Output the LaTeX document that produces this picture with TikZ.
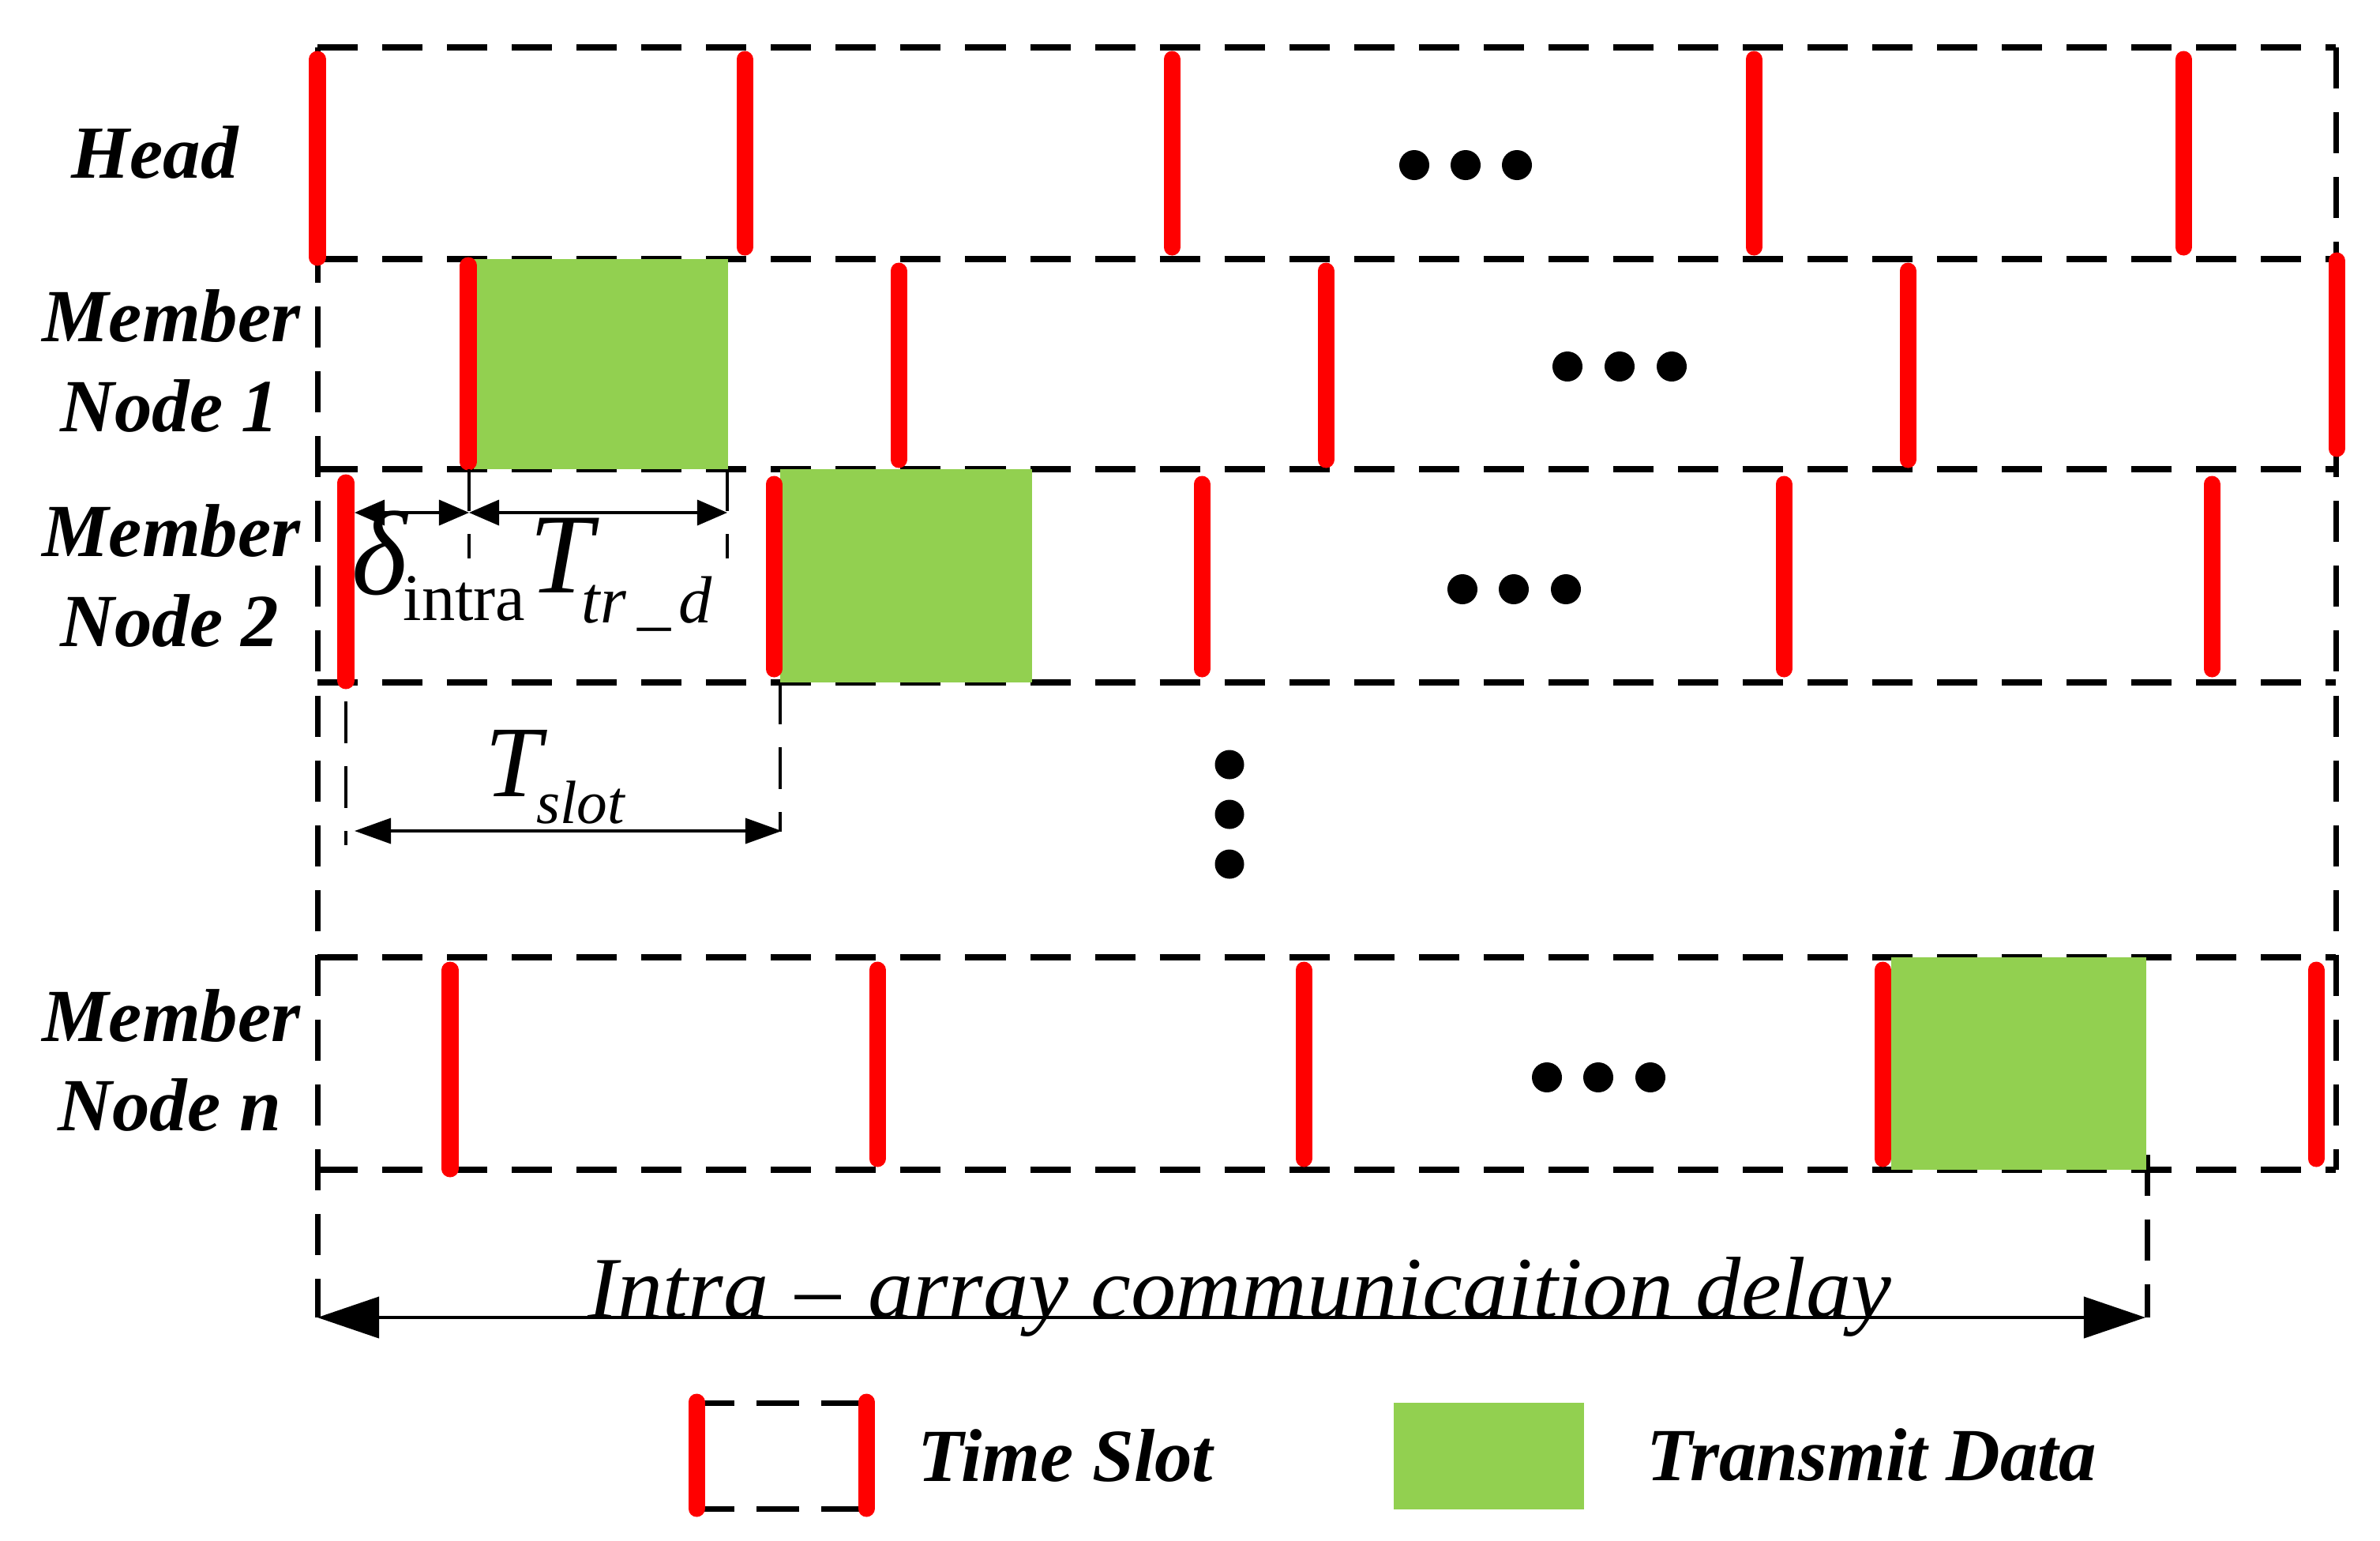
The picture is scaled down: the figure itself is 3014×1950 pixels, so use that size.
\documentclass[tikz,border=0pt]{standalone}
\usepackage{fontspec}
\usepackage{graphicx}
\setmainfont{Liberation Serif}
\usetikzlibrary{arrows.meta}
\definecolor{slotred}{RGB}{255,0,0}
\definecolor{datagreen}{RGB}{146,208,80}
\tikzset{
  hdash/.style={line width=0.08cm, dash pattern=on 0.51cm off 0.31cm},
  legdash/.style={line width=0.07cm, dash pattern=on 0.54cm off 0.28cm},
  vdash/.style={line width=0.07cm, dash pattern=on 0.52cm off 0.30cm},
  thindash/.style={line width=0.045cm, dash pattern=on 0.53cm off 0.29cm},
  slotline/.style={draw=slotred, line width=0.21cm, line cap=round},
  databox/.style={fill=datagreen, draw=none},
  dotmark/.style={fill=black, draw=none},
  lbl/.style={font=\fontsize{27}{27}\selectfont\bfseries\itshape, inner sep=0pt, anchor=base},
  leglbl/.style={font=\fontsize{27}{27}\selectfont\bfseries\itshape, inner sep=0pt, anchor=base west},
  mathlbl/.style={inner sep=0pt, anchor=base west},
  dimarrow/.style={line width=0.035cm, {Triangle[length=0.38cm,width=0.32cm]}-{Triangle[length=0.38cm,width=0.32cm]}},
  slotarrow/.style={line width=0.035cm, {Triangle[length=0.46cm,width=0.32cm]}-{Triangle[length=0.46cm,width=0.32cm]}},
  bigarrow/.style={line width=0.04cm, {Triangle[length=0.78cm,width=0.52cm]}-{Triangle[length=0.78cm,width=0.52cm]}},
}
\begin{document}
\begin{tikzpicture}[x=0.01cm,y=-0.01cm]
\useasboundingbox (0,0) rectangle (3014,1950);

% ---- grid of dashed lines ----
\foreach \yy in {60,328,594,864,1212,1481}
  \draw[hdash] (402,\yy) -- (2958,\yy);
\draw[vdash] (402,60) -- (402,1668);
\draw[vdash] (2958,60) -- (2958,1481);
\draw[vdash] (2719,1462) -- (2719,1668);

% ---- transmit data boxes ----
\fill[databox] (600,328) rectangle (922,594);
\fill[databox] (988,594) rectangle (1307,864);
\fill[databox] (2395,1212) rectangle (2718,1481);

% ---- time slot red lines ----
% Head
\draw[slotline] (402,75) -- (402,326);
\foreach \xx in {943,1484,2221,2765}
  \draw[slotline] (\xx,75) -- (\xx,313);
% Member Node 1
\draw[slotline] (593,336) -- (593,585);
\foreach \xx in {1138,1679,2416}
  \draw[slotline] (\xx,343) -- (\xx,582);
\draw[slotline] (2959,330) -- (2959,568);
% Member Node 2
\draw[slotline] (438,611) -- (438,862);
\foreach \xx in {980,1522,2259,2801}
  \draw[slotline] (\xx,613) -- (\xx,847);
% Member Node n
\draw[slotline] (570,1228) -- (570,1480);
\foreach \xx in {1111,1651,2384,2933}
  \draw[slotline] (\xx,1228) -- (\xx,1467);

% ---- ellipsis dots ----
\foreach \xx in {1791,1856,1921} \fill[dotmark] (\xx,209) circle (0.19cm);
\foreach \xx in {1985,2051,2117} \fill[dotmark] (\xx,464) circle (0.19cm);
\foreach \xx in {1852,1917,1983} \fill[dotmark] (\xx,746) circle (0.19cm);
\foreach \xx in {1959,2024,2090} \fill[dotmark] (\xx,1364) circle (0.19cm);
\foreach \yy in {968,1031,1094} \fill[dotmark] (1557,\yy) circle (0.185cm);

% ---- extension lines ----
\draw[thindash] (594,594) -- (594,707);
\draw[thindash] (921,594) -- (921,707);
\draw[thindash] (438,888) -- (438,1070);
\draw[thindash] (988,864) -- (988,1053);

% ---- dimension arrows ----
\coordinate (dA) at (449,649);
\coordinate (dB) at (594,649);
\coordinate (tB) at (921,649);
\coordinate (sA) at (449,1052);
\coordinate (sB) at (990,1052);
\coordinate (bA) at (402,1668);
\coordinate (bB) at (2717,1668);
\draw[dimarrow] (dA) -- (dB);
\draw[dimarrow] (dB) -- (tB);
\draw[slotarrow] (sA) -- (sB);
\draw[bigarrow] (bA) -- (bB);

% ---- math labels ----
\node[mathlbl] (delta) at (445,752) {\fontsize{43}{43}\selectfont\itshape δ\kern-1.5pt\raisebox{-9.5pt}{\fontsize{24}{24}\selectfont\upshape intra}};
\node[mathlbl] (ttrd) at (670,750) {\fontsize{41}{41}\selectfont\itshape T\kern-4pt\raisebox{-10.8pt}{\fontsize{24}{24}\selectfont\itshape tr\kern4pt\_\kern3pt d}};
\node[mathlbl] (tslot) at (614,1008) {\fontsize{36.5}{36.5}\selectfont\itshape T\kern-2pt\raisebox{-9.7pt}{\fontsize{22}{22}\selectfont\itshape slot}};
\node[inner sep=0pt, anchor=base] (delay) at (1570,1668) {\resizebox{16.5cm}{\height}{\fontsize{31.5}{31.5}\selectfont\itshape Intra\kern0.3em{\upshape –}\kern0.3em array communicaition delay}};

% ---- row labels ----
\node[lbl] (head) at (196,225) {Head};
\node[lbl] (m1a) at (217,432) {Member};
\node[lbl] (m1b) at (215,546) {Node 1};
\node[lbl] (m2a) at (217,704) {Member};
\node[lbl] (m2b) at (215,818) {Node 2};
\node[lbl] (mna) at (217,1318) {Member};
\node[lbl] (mnb) at (215,1431) {Node n};

% ---- legend ----
\draw[legdash] (876,1776) -- (1094,1776);
\draw[legdash] (876,1910) -- (1094,1910);
\draw[slotline] (882,1775) -- (882,1910);
\draw[slotline] (1097,1775) -- (1097,1910);
\node[leglbl] (ts) at (1162,1875) {Time Slot};
\fill[databox] (1765,1776) rectangle (2006,1911);
\node[leglbl] (td) at (2085,1874) {Transmit Data};
\end{tikzpicture}
\end{document}
